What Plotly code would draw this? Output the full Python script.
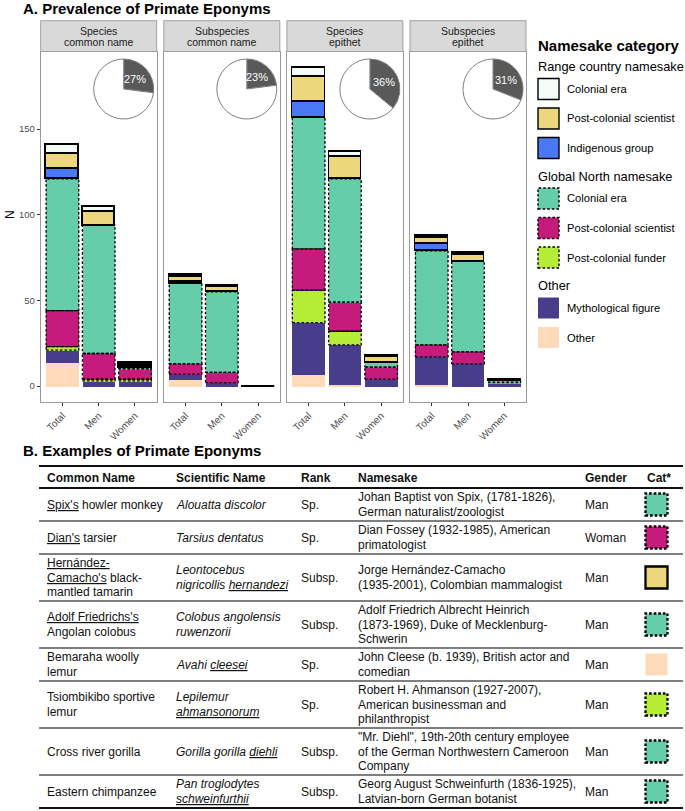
import math
import plotly.graph_objects as go

W, H = 685, 811

# ---------------- data : panel A ----------------
panels = ["Species<br>common name", "Subspecies<br>common name",
          "Species<br>epithet", "Subspecies<br>epithet"]
groups = ["Total", "Men", "Women"]

# one [Total, Men, Women] triple per panel, for each namesake category
rc_colonial   = [[5, 3, 1], [1, 1, 0], [5, 3, 1], [1, 1, 1]]
rc_scientist  = [[9, 8, 1], [3, 3, 0], [15, 13, 3], [4, 4, 0]]
rc_indigenous = [[6, 0, 1], [1, 0, 0], [9, 0, 0], [4, 0, 0]]
gn_colonial   = [[77, 75, 1], [47, 47, 0], [77, 72, 3], [55, 53, 1]]
gn_scientist  = [[21, 15, 6], [6, 6, 0], [24, 17, 7], [7, 7, 0]]
gn_funder     = [[2, 1, 1], [0, 0, 0], [19, 8, 0], [0, 0, 0]]
oth_myth      = [[7, 3, 3], [3, 2, 0], [30, 23, 4], [16, 13, 2]]
oth_other     = [[14, 0, 0], [4, 0, 0], [7, 1, 0], [1, 0, 0]]

pie_pct = [27, 23, 36, 31]
y_ticks = [0, 50, 100, 150]

legend_title = "Namesake category"
legend_groups = ["Range country namesake", "Global North namesake", "Other"]
legend_labels = [["Colonial era", "Post-colonial scientist", "Indigenous group"],
                 ["Colonial era", "Post-colonial scientist", "Post-colonial funder"],
                 ["Mythological figure", "Other"]]

# ---------------- data : panel B ----------------
table_header = ["Common Name", "Scientific Name", "Rank", "Namesake", "Gender", "Cat*"]
common_names = ["<u>Spix's</u> howler monkey",
                "<u>Dian's</u> tarsier",
                "<u>Hernández-</u><br><u>Camacho's</u> black-<br>mantled tamarin",
                "<u>Adolf Friedrichs's</u><br>Angolan colobus",
                "Bemaraha woolly<br>lemur",
                "Tsiombikibo sportive<br>lemur",
                "Cross river gorilla",
                "Eastern chimpanzee"]
scientific_names = ["<i>Alouatta discolor</i>",
                    "<i>Tarsius dentatus</i>",
                    "<i>Leontocebus</i><br><i>nigricollis <u>hernandezi</u></i>",
                    "<i>Colobus angolensis</i><br><i>ruwenzorii</i>",
                    "<i>Avahi <u>cleesei</u></i>",
                    "<i>Lepilemur</i><br><i><u>ahmansonorum</u></i>",
                    "<i>Gorilla gorilla <u>diehli</u></i>",
                    "<i>Pan troglodytes</i><br><i><u>schweinfurthii</u></i>"]
ranks = ["Sp.", "Sp.", "Subsp.", "Subsp.", "Sp.", "Sp.", "Subsp.", "Subsp."]
namesakes = ["Johan Baptist von Spix, (1781-1826),<br>German naturalist/zoologist",
             "Dian Fossey (1932-1985), American<br>primatologist",
             "Jorge Hernández-Camacho<br>(1935-2001), Colombian mammalogist",
             "Adolf Friedrich Albrecht Heinrich<br>(1873-1969), Duke of Mecklenburg-<br>Schwerin",
             "John Cleese (b. 1939), British actor and<br>comedian",
             "Robert H. Ahmanson (1927-2007),<br>American businessman and<br>philanthropist",
             "\"Mr. Diehl\", 19th-20th century employee<br>of the German Northwestern Cameroon<br>Company",
             "Georg August Schweinfurth (1836-1925),<br>Latvian-born German botanist"]
genders_tab = ["Man", "Woman", "Man", "Man", "Man", "Man", "Man", "Man"]
cat_codes = ["gn_col", "gn_sci", "rc_sci", "gn_col", "oth_other", "gn_funder", "gn_col", "gn_col"]

# ---------------- styles ----------------
FONT = "Liberation Sans, Arial, sans-serif"
COL = {"rc_col": "#F3FCF7", "rc_sci": "#EDD77C", "rc_indig": "#4A78F4",
       "gn_col": "#66CDAA", "gn_sci": "#C51B7D", "gn_funder": "#B5EC35",
       "oth_myth": "#483D8B", "oth_other": "#FFDAB9"}
STYLE = {"rc_col": "solid", "rc_sci": "solid", "rc_indig": "solid",
         "gn_col": "dash", "gn_sci": "dash", "gn_funder": "dash",
         "oth_myth": "none", "oth_other": "none"}
DASH = "2.6px,2px"

# stacking order bottom -> top
stack = [("oth_other", oth_other), ("oth_myth", oth_myth), ("gn_funder", gn_funder),
         ("gn_sci", gn_scientist), ("gn_col", gn_colonial), ("rc_indig", rc_indigenous),
         ("rc_sci", rc_scientist), ("rc_col", rc_colonial)]
legend_codes = [["rc_col", "rc_sci", "rc_indig"], ["gn_col", "gn_sci", "gn_funder"],
                ["oth_myth", "oth_other"]]


def X(px):
    return px / W


def Y(py):
    return 1 - py / H


panel_left = [40.7, 163.8, 286.9, 410.0]
panel_w = 116.0
panel_top, panel_bot, strip_top = 51.5, 402.0, 20.7
BW = 0.9

fig = go.Figure()
shapes, annos = [], []
layout_axes = {}

for k in range(4):
    xa = "x" if k == 0 else f"x{k + 1}"
    ya = "y" if k == 0 else f"y{k + 1}"
    # stacked bars
    cum = [0, 0, 0]
    outline_x, outline_y = [], []
    for code, vals in stack:
        v = vals[k]
        st = STYLE[code]
        line = dict(color="black", width=1.3) if st == "solid" else dict(width=0)
        fig.add_trace(go.Bar(x=[0, 1, 2], y=v, width=BW, xaxis=xa, yaxis=ya,
                             marker=dict(color=COL[code], line=line),
                             showlegend=False, hoverinfo="skip"))
        for i in range(3):
            if st == "dash" and v[i] > 0:
                b, t = cum[i], cum[i] + v[i]
                outline_x += [i - BW / 2, i + BW / 2, i + BW / 2, i - BW / 2, i - BW / 2, None]
                outline_y += [b, b, t, t, b, None]
            cum[i] += v[i]
    fig.add_trace(go.Scatter(x=outline_x, y=outline_y, mode="lines", xaxis=xa, yaxis=ya,
                             line=dict(color="black", width=1.3, dash=DASH),
                             showlegend=False, hoverinfo="skip"))
    # zero-height bars drawn as a line
    zx, zy = [], []
    for i in range(3):
        if cum[i] == 0:
            zx += [i - BW / 2, i + BW / 2, None]
            zy += [0, 0, None]
    if zx:
        fig.add_trace(go.Scatter(x=zx, y=zy, mode="lines", xaxis=xa, yaxis=ya,
                                 line=dict(color="black", width=1.4),
                                 showlegend=False, hoverinfo="skip"))

    l, r = panel_left[k], panel_left[k] + panel_w
    layout_axes["xaxis" if k == 0 else f"xaxis{k + 1}"] = dict(
        domain=[X(l), X(r)], anchor=ya, range=[-0.6, 2.6],
        tickvals=[0, 1, 2], ticktext=groups, tickangle=-45,
        tickfont=dict(family=FONT, size=10, color="#4D4D4D"),
        ticks="outside", ticklen=3, tickcolor="#333333",
        showline=True, mirror=True, linecolor="#9A9A9A", linewidth=1,
        showgrid=False, zeroline=False, fixedrange=True)
    layout_axes["yaxis" if k == 0 else f"yaxis{k + 1}"] = dict(
        domain=[Y(panel_bot), Y(panel_top)], anchor=xa, range=[-9.3, 195.3],
        tickvals=y_ticks, showticklabels=(k == 0),
        ticks="outside" if k == 0 else "", ticklen=3, tickcolor="#333333",
        tickfont=dict(family=FONT, size=9.5, color="#4D4D4D"),
        showline=True, mirror=True, linecolor="#9A9A9A", linewidth=1,
        showgrid=False, zeroline=False, fixedrange=True)

    # strip
    shapes.append(dict(type="rect", xref="paper", yref="paper",
                       x0=X(l), x1=X(r), y0=Y(panel_top), y1=Y(strip_top),
                       fillcolor="#D9D9D9", line=dict(color="#A0A0A0", width=1)))
    for j, txt in enumerate(panels[k].split("<br>")):
        annos.append(dict(xref="paper", yref="paper", x=X((l + r) / 2), y=Y(31 + 11.5 * j),
                          text=txt, showarrow=False, xanchor="center", yanchor="middle",
                          font=dict(family=FONT, size=10.5, color="#1A1A1A")))

    # pie inset
    cx, cy, rad = r - 33, 89, 30
    fig.add_trace(go.Pie(values=[pie_pct[k], 100 - pie_pct[k]], sort=False,
                         direction="clockwise", rotation=0,
                         marker=dict(colors=["#595959", "white"],
                                     line=dict(color="#7F7F7F", width=1)),
                         textinfo="none", hoverinfo="skip", showlegend=False,
                         domain=dict(x=[X(cx - rad), X(cx + rad)], y=[Y(cy + rad), Y(cy - rad)])))
    th = pie_pct[k] / 100 * math.pi
    annos.append(dict(xref="paper", yref="paper",
                      x=X(cx + 15.5 * math.sin(th)), y=Y(cy - 15.5 * math.cos(th)),
                      text=f"{pie_pct[k]}%", showarrow=False, xanchor="center", yanchor="middle",
                      font=dict(family=FONT, size=11, color="white")))

# titles
annos.append(dict(xref="paper", yref="paper", x=X(21), y=Y(8), text="<b>A. Prevalence of Primate Eponyms</b>",
                  showarrow=False, xanchor="left", yanchor="middle", font=dict(family=FONT, size=15, color="black")))
annos.append(dict(xref="paper", yref="paper", x=X(21), y=Y(451), text="<b>B. Examples of Primate Eponyms</b>",
                  showarrow=False, xanchor="left", yanchor="middle", font=dict(family=FONT, size=15, color="black")))
annos.append(dict(xref="paper", yref="paper", x=X(10), y=Y(215), text="N", textangle=-90,
                  showarrow=False, xanchor="center", yanchor="middle", font=dict(family=FONT, size=12, color="black")))

# ---------------- legend (drawn manually) ----------------
def key_shape(x0, y0, size, code, lw):
    st = STYLE[code]
    if st == "solid":
        line = dict(color="black", width=lw)
    elif st == "dash":
        line = dict(color="black", width=lw, dash=DASH)
    else:
        line = dict(width=0)
    return dict(type="rect", xref="paper", yref="paper", x0=X(x0), x1=X(x0 + size),
                y0=Y(y0 + size), y1=Y(y0), fillcolor=COL[code], line=line)


annos.append(dict(xref="paper", yref="paper", x=X(536), y=Y(45), text=f"<b>{legend_title}</b>",
                  showarrow=False, xanchor="left", yanchor="middle", font=dict(family=FONT, size=15, color="black")))
yy = 67
for g, gname in enumerate(legend_groups):
    annos.append(dict(xref="paper", yref="paper", x=X(536), y=Y(yy), text=gname,
                      showarrow=False, xanchor="left", yanchor="middle",
                      font=dict(family=FONT, size=12.8, color="black")))
    yy += 22
    for lab, code in zip(legend_labels[g], legend_codes[g]):
        shapes.append(key_shape(538, yy - 10.5, 21, code, 1.4))
        annos.append(dict(xref="paper", yref="paper", x=X(565), y=Y(yy), text=lab,
                          showarrow=False, xanchor="left", yanchor="middle",
                          font=dict(family=FONT, size=11.2, color="black")))
        yy += 29.5
    yy += -29.5 + 28.5

# ---------------- table ----------------
col_x = [45, 174, 299, 356, 583, 645]
tab_l, tab_r = 39, 683
top_line, head_line = 466, 488
LS = 14.5
TFONT = dict(family=FONT, size=12, color="#111111")

for cx_, h in zip(col_x, table_header):
    annos.append(dict(xref="paper", yref="paper", x=X(cx_), y=Y(477.5), text=f"<b>{h}</b>",
                      showarrow=False, xanchor="left", yanchor="middle", font=TFONT))

rows = list(zip(common_names, scientific_names, ranks, namesakes, genders_tab))
ytop = head_line
row_lines = []
for ri, row in enumerate(rows):
    nl = max(len(c.split("<br>")) for c in row)
    rh = 5 + 14 * nl
    yc = ytop + rh / 2
    for ci, cell in enumerate(row):
        parts = cell.split("<br>")
        n = len(parts)
        for j, p in enumerate(parts):
            annos.append(dict(xref="paper", yref="paper", x=X(col_x[ci]),
                              y=Y(yc + (j - (n - 1) / 2) * LS), text=p,
                              showarrow=False, xanchor="left", yanchor="middle", font=TFONT))
    shapes.append(key_shape(645.5, yc - 11, 22, cat_codes[ri], 2.3))
    ytop += rh
    row_lines.append(ytop)

shapes.append(dict(type="line", xref="paper", yref="paper", x0=X(tab_l), x1=X(tab_r),
                   y0=Y(top_line), y1=Y(top_line), line=dict(color="#111111", width=2)))
shapes.append(dict(type="line", xref="paper", yref="paper", x0=X(tab_l), x1=X(tab_r),
                   y0=Y(head_line), y1=Y(head_line), line=dict(color="#111111", width=2)))
for i, yl in enumerate(row_lines):
    last = i == len(row_lines) - 1
    shapes.append(dict(type="line", xref="paper", yref="paper", x0=X(tab_l), x1=X(tab_r),
                       y0=Y(yl), y1=Y(yl),
                       line=dict(color="#111111" if last else "#555555", width=2 if last else 1.3)))

fig.update_layout(width=W, height=H, margin=dict(l=0, r=0, t=0, b=0),
                  paper_bgcolor="white", plot_bgcolor="white",
                  barmode="stack", bargap=0, showlegend=False,
                  shapes=shapes, annotations=annos, **layout_axes)

fig.write_html("out.html", config={"displayModeBar": False},
               post_script="document.body.style.margin='0px';document.body.style.overflow='hidden';")
